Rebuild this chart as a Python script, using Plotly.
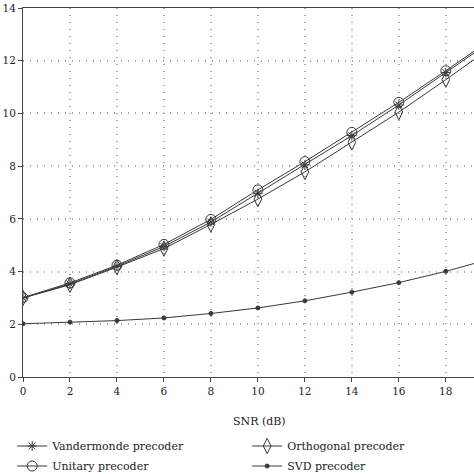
import plotly.graph_objects as go

# SNR en dB
snr = [0, 2, 4, 6, 8, 10, 12, 14, 16, 18, 20]

# valores
vandermonde = [3.0, 3.53, 4.2, 4.95, 5.88, 6.97, 8.05, 9.16, 10.32, 11.55, 12.78]
unitario = [3.01, 3.57, 4.24, 5.03, 5.98, 7.1, 8.17, 9.28, 10.42, 11.62, 12.85]
ortogonal = [3.0, 3.5, 4.17, 4.87, 5.79, 6.75, 7.78, 8.9, 10.05, 11.28, 12.55]
svd = [2.02, 2.08, 2.14, 2.24, 2.41, 2.62, 2.89, 3.22, 3.58, 4.01, 4.5]

color_linea = '#383838'
fuente = 'DejaVu Serif, serif'

fig = go.Figure()

def agregar(y, nombre, simbolo, tam, leyenda):
	fig.add_trace(go.Scatter(
		x=snr, y=y, name=nombre, mode='lines+markers',
		line=dict(color=color_linea, width=1),
		marker=dict(symbol=simbolo, size=tam, color=color_linea,
			line=dict(color=color_linea, width=1)),
		legend=leyenda))

agregar(vandermonde, 'Vandermonde precoder', 'asterisk-open', 8, 'legend')
agregar(unitario, 'Unitary precoder', 'circle-open', 10, 'legend2')
agregar(ortogonal, 'Orthogonal precoder', 'diamond-tall-open', 11, 'legend3')
agregar(svd, 'SVD precoder', 'circle', 4, 'legend4')

estilo_leyenda = dict(font=dict(family=fuente, size=11, color='#222'),
	bgcolor='rgba(0,0,0,0)', itemwidth=30,
	yanchor='middle', xanchor='left')

fila1, fila2 = (377-446)/369, (377-466)/369
col1, col2 = -0.024, 0.497

fig.update_layout(
	width=474, height=474,
	margin=dict(l=23, r=0, t=8, b=97, autoexpand=False),
	plot_bgcolor='white', paper_bgcolor='white',
	font=dict(family=fuente, size=11, color='#222'),
	showlegend=True,
	legend=dict(x=col1, y=fila1, **estilo_leyenda),
	legend2=dict(x=col1, y=fila2, **estilo_leyenda),
	legend3=dict(x=col2, y=fila1, **estilo_leyenda),
	legend4=dict(x=col2, y=fila2, **estilo_leyenda),
	xaxis=dict(range=[0, 19.2], tickvals=list(range(0, 20, 2)),
		showline=True, linecolor='#444', linewidth=1, mirror=True,
		ticks='outside', ticklen=4, tickcolor='#444',
		tickfont=dict(family=fuente, size=10.5),
		showgrid=True, gridcolor='#a8a8a8', griddash='1px,6px', gridwidth=1.5,
		zeroline=False),
	yaxis=dict(range=[0, 14], tickvals=list(range(0, 15, 2)),
		showline=True, linecolor='#444', linewidth=1,
		ticks='outside', ticklen=4, tickcolor='#444',
		tickfont=dict(family=fuente, size=10.5),
		showgrid=True, gridcolor='#a8a8a8', griddash='1px,6px', gridwidth=1.5,
		zeroline=False),
)

fig.add_annotation(text='SNR (dB)', xref='paper', yref='paper',
	x=(259-23)/451, y=(377-421)/369, xanchor='center', yanchor='middle',
	showarrow=False, font=dict(family=fuente, size=11, color='#222'))

# quitar el margen del body para que la figura llene la ventana
fig.write_html("out.html", config={'displayModeBar': False},
	post_script="document.body.style.margin='0px';")
